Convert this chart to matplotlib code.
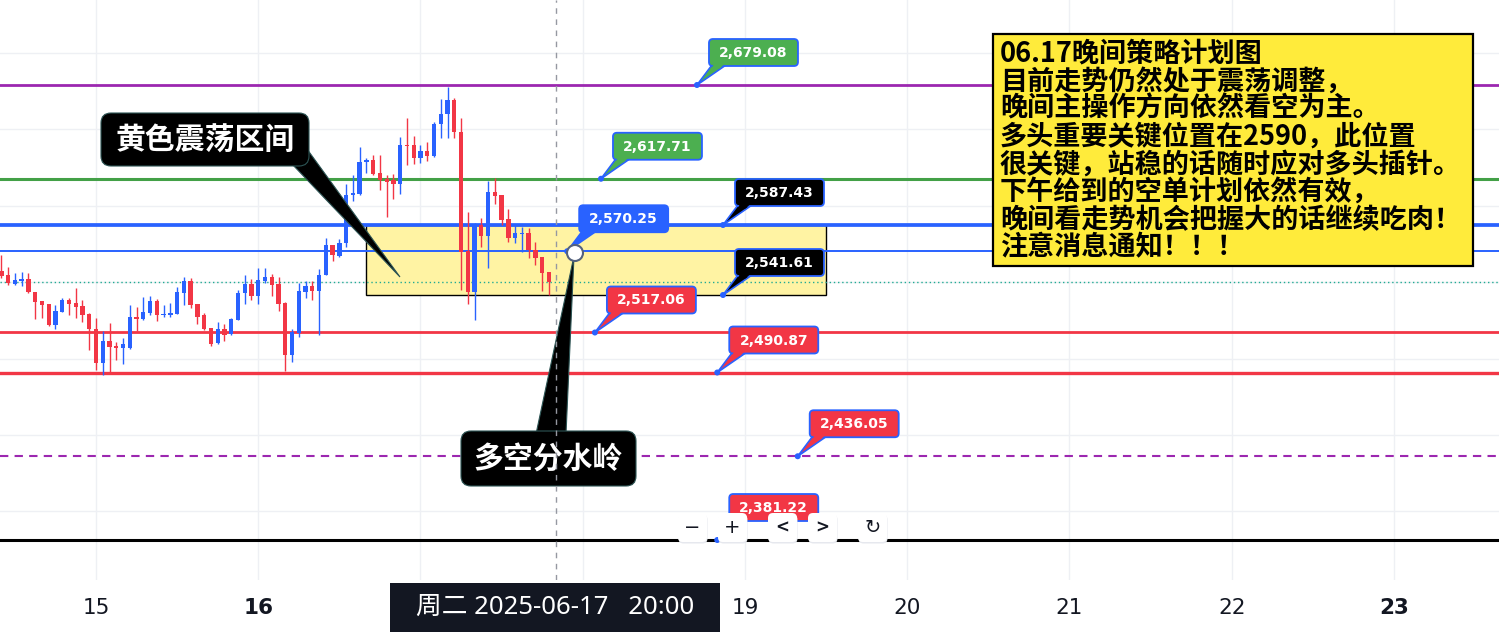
import matplotlib
matplotlib.use("Agg")
import matplotlib.pyplot as plt
from matplotlib.patches import FancyBboxPatch, Polygon, Rectangle, Circle
from matplotlib.transforms import IdentityTransform

W, H = 1499, 639

# ---------------- data ----------------
hours = list(range(-14, 68))  # hourly candles, hour 0 = 06-15 00:00
opens = [2557.3, 2554.7, 2548.6, 2551.0, 2552.1, 2543.8, 2537.7, 2535.7, 2522.0, 2530.7,
         2538.3, 2536.6, 2534.4, 2529.2, 2519.2, 2497.3, 2511.5, 2508.2, 2506.7, 2506.7,
         2527.5, 2525.8, 2529.7, 2537.7, 2528.3, 2528.5, 2529.2, 2543.1, 2551.0, 2535.7,
         2528.5, 2520.3, 2509.9, 2519.6, 2515.9, 2525.2, 2542.7, 2548.8, 2541.0, 2550.5,
         2553.6, 2548.8, 2536.6, 2502.3, 2516.5, 2543.8, 2547.5, 2544.4, 2554.7, 2574.3,
         2567.3, 2575.5, 2607.1, 2607.5, 2628.5, 2630.0, 2621.3, 2617.4, 2616.9, 2614.3,
         2639.8, 2639.8, 2631.5, 2635.9, 2632.8, 2653.3, 2659.9, 2669.3, 2648.1, 2570.4,
         2543.8, 2587.4, 2580.4, 2608.8, 2607.1, 2591.4, 2579.1, 2581.7, 2582.0, 2571.1,
         2566.7, 2556.5]
highs = [2567.8, 2560.1, 2555.8, 2556.5, 2556.2, 2543.8, 2537.7, 2535.7, 2535.1, 2539.4,
         2539.4, 2546.0, 2538.3, 2529.5, 2526.3, 2518.0, 2523.1, 2511.0, 2513.3, 2535.1,
         2533.9, 2540.5, 2541.0, 2538.8, 2535.1, 2536.2, 2547.0, 2553.2, 2552.5, 2535.7,
         2529.6, 2520.3, 2524.1, 2522.9, 2526.3, 2544.9, 2554.7, 2551.9, 2559.1, 2559.5,
         2555.2, 2553.2, 2537.2, 2519.2, 2549.3, 2551.0, 2551.0, 2558.4, 2578.7, 2574.3,
         2578.3, 2614.1, 2620.2, 2638.7, 2631.5, 2633.3, 2633.3, 2620.2, 2620.6, 2645.2,
         2657.3, 2645.9, 2639.8, 2641.6, 2654.6, 2669.9, 2678.0, 2670.8, 2657.3, 2596.1,
         2588.5, 2591.8, 2616.2, 2618.0, 2607.1, 2598.2, 2587.9, 2586.3, 2585.3, 2576.5,
         2566.7, 2556.9]
lows = [2552.7, 2548.2, 2548.2, 2547.7, 2542.7, 2525.9, 2526.7, 2521.5, 2519.2, 2530.4,
        2528.5, 2526.3, 2524.1, 2505.6, 2492.5, 2489.2, 2490.3, 2499.1, 2496.4, 2506.0,
        2518.2, 2525.5, 2528.5, 2524.6, 2527.5, 2527.5, 2529.0, 2535.1, 2532.9, 2522.6,
        2518.5, 2508.2, 2509.7, 2511.7, 2515.4, 2525.0, 2535.7, 2538.3, 2535.7, 2549.6,
        2541.1, 2531.3, 2492.1, 2497.9, 2514.3, 2539.4, 2538.3, 2515.4, 2554.5, 2564.1,
        2566.7, 2573.2, 2603.3, 2607.3, 2621.3, 2620.2, 2610.3, 2592.9, 2604.5, 2607.6,
        2626.7, 2627.2, 2627.8, 2629.3, 2632.1, 2644.6, 2644.2, 2644.6, 2544.9, 2535.5,
        2525.2, 2573.2, 2559.1, 2601.0, 2587.4, 2576.1, 2575.5, 2569.6, 2566.0, 2561.3,
        2544.2, 2541.6]
closes = [2554.1, 2549.3, 2551.4, 2551.9, 2543.4, 2537.2, 2535.1, 2522.0, 2531.3, 2538.3,
          2535.7, 2534.0, 2528.5, 2519.2, 2497.3, 2511.5, 2507.8, 2506.7, 2509.5, 2527.5,
          2525.8, 2530.4, 2537.7, 2528.5, 2529.2, 2529.7, 2543.8, 2551.0, 2535.1, 2527.5,
          2519.6, 2509.5, 2519.6, 2515.4, 2525.6, 2543.1, 2548.8, 2541.0, 2551.4, 2553.6,
          2548.2, 2535.7, 2502.3, 2517.6, 2544.4, 2547.5, 2544.4, 2554.7, 2574.3, 2567.8,
          2575.5, 2607.1, 2608.2, 2628.5, 2630.0, 2620.8, 2616.6, 2615.8, 2614.3, 2639.8,
          2639.3, 2631.5, 2635.9, 2632.8, 2653.3, 2659.9, 2669.3, 2648.1, 2570.0, 2543.8,
          2587.4, 2580.4, 2608.8, 2606.6, 2590.7, 2579.1, 2582.0, 2582.4, 2571.1, 2566.0,
          2556.2, 2550.3]

label_prices = [2679.08, 2617.71, 2587.43, 2570.25, 2541.61, 2517.06, 2490.87, 2436.05, 2381.22]
label_texts = ["2,679.08", "2,617.71", "2,587.43", "2,570.25", "2,541.61",
               "2,517.06", "2,490.87", "2,436.05", "2,381.22"]
label_fills = ["#4caf50", "#4caf50", "#000000", "#2962ff", "#000000",
               "#f23645", "#f23645", "#f23645", "#f23645"]
label_hours = [88.9, 74.7, 92.75, 69.7, 92.75, 73.8, 91.9, 103.8, 91.9]

line_prices = [2679.08, 2617.71, 2587.43, 2570.25, 2517.06, 2490.87, 2436.05, 2381.22]
line_colors = ["#9c27b0", "#43a047", "#2962ff", "#2962ff", "#f23645", "#f23645", "#9c27b0", "#000000"]
line_widths = [2.0, 2.2, 2.7, 1.4, 2.0, 2.4, 1.5, 2.2]
line_styles = ["-", "-", "-", "-", "-", "-", (0, (4, 3)), "-"]

range_hours = (40, 108)
range_prices = (2541.61, 2587.43)
last_price = 2550.3
cross_hour = 68

day_hours = [0, 24, 96, 120, 144, 168, 192]   # 17 and 18 are hidden under the crosshair label
day_labels = ["15", "16", "19", "20", "21", "22", "23"]
grid_hours = [0, 24, 48, 72, 96, 120, 144, 168, 192]
bold_days = ["16", "23"]

note_lines = ["06.17晚间策略计划图",
              "目前走势仍然处于震荡调整，",
              "晚间主操作方向依然看空为主。",
              "多头重要关键位置在2590，此位置",
              "很关键，站稳的话随时应对多头插针。",
              "下午给到的空单计划依然有效，",
              "晚间看走势机会把握大的话继续吃肉！",
              "注意消息通知！！！"]

UP = "#2962ff"
DOWN = "#f23645"
CJK = ["Noto Sans CJK SC", "DejaVu Sans"]
IDT = IdentityTransform()

# ---------------- figure ----------------
fig = plt.figure(figsize=(W / 100, H / 100), dpi=100)
fig.patch.set_facecolor("white")
ax = fig.add_axes([0, 59 / H, 1, 580 / H])
ax.set_xlim(-14.2, 207.54)
ax.set_ylim(2355.04, 2734.72)
ax.axis("off")

# grid
for p in range(2400, 2701, 50):
    ax.axhline(p, color="#eef0f4", lw=1, zorder=0.5)
for d in grid_hours:
    ax.axvline(d, color="#eef0f4", lw=1, zorder=0.5)

# yellow range box
ax.add_patch(Rectangle((range_hours[0], range_prices[0]), range_hours[1] - range_hours[0],
                       range_prices[1] - range_prices[0], fc="#fff3a3", ec="black", lw=1, zorder=1))

# level lines
for p, c, w, s in zip(line_prices, line_colors, line_widths, line_styles):
    ax.axhline(p, color=c, lw=w, ls=s, zorder=2)
ax.axhline(last_price, color="#22ab94", lw=1, ls=(0, (1, 2)), zorder=2)

# candles
cols = [UP if c >= o else DOWN for o, c in zip(opens, closes)]
ax.vlines(hours, lows, highs, colors=cols, lw=1, zorder=3)
bottoms = [min(o, c) for o, c in zip(opens, closes)]
heights = [max(abs(c - o), 0.8) for o, c in zip(opens, closes)]
ax.bar(hours, heights, bottom=bottoms, width=0.64, color=cols, lw=0, zorder=3.1)

# crosshair vertical
ax.axvline(cross_hour, color="#9598a1", lw=1, ls=(0, (4, 4)), zorder=6)


def P(x, y):
    return (x, H - y)


# big black callouts
def big_callout(box, tail, text):
    x0, y0, x1, y1 = box
    ax.add_patch(Polygon([P(*t) for t in tail], closed=True, fc="black", ec="#2d5555", lw=0.8,
                         transform=IDT, zorder=5, clip_on=False))
    ax.add_patch(FancyBboxPatch(P(x0, y1), x1 - x0, y1 - y0, boxstyle="round,pad=0,rounding_size=10",
                                fc="black", ec="#2d5555", lw=0.8, transform=IDT, zorder=5.1, clip_on=False))
    ax.add_patch(Polygon([P(*t) for t in tail[:2]] + [P((tail[0][0] + tail[1][0]) / 2, (tail[0][1] + tail[1][1]) / 2 + 8)],
                         closed=True, fc="black", ec="none", transform=IDT, zorder=5.2, clip_on=False))
    ax.text((x0 + x1) / 2, H - (y0 + y1) / 2 - 1, text, transform=IDT, ha="center", va="center",
            color="white", fontsize=21.5, fontweight="heavy", family=CJK, zorder=5.3, clip_on=False)


big_callout((101, 113, 309, 166), [(291, 163), (307, 149), (400, 277)], "黄色震荡区间")
big_callout((461, 431, 636, 486), [(536, 434), (566, 434), (574, 256)], "多空分水岭")

# price callouts
for p, t, f, hx in zip(label_prices, label_texts, label_fills, label_hours):
    axx, ayy = ax.transData.transform((hx, p))
    left, bottom = axx + 12, ayy + 19
    ax.add_patch(Polygon([(left + 3, bottom + 1), (left + 17, bottom + 1), (axx, ayy)], closed=True,
                         fc=f, ec=UP, lw=1.2, transform=IDT, zorder=7, clip_on=False))
    ax.add_patch(FancyBboxPatch((left, bottom), 89, 27, boxstyle="round,pad=0,rounding_size=4",
                                fc=f, ec=UP, lw=1.3, transform=IDT, zorder=7.1, clip_on=False))
    ax.add_patch(Polygon([(left + 4.8, bottom + 2), (left + 15.5, bottom + 2), (left + 10.5, bottom - 2.5),
                          (left + 2.8, bottom - 2.5)], closed=True, fc=f, ec="none",
                         transform=IDT, zorder=7.2, clip_on=False))
    ax.add_patch(Circle((axx, ayy), 3, fc=UP, ec="none", transform=IDT, zorder=7.3, clip_on=False))
    ax.text(left + 44.5, bottom + 13, t, transform=IDT, ha="center", va="center", color="white",
            fontsize=10, fontweight="bold", family=["DejaVu Sans"], zorder=7.4, clip_on=False)

# selected handle circle
ax.add_patch(Circle(P(575, 253), 8, fc="white", ec="#54627e", lw=1.5, transform=IDT, zorder=8, clip_on=False))

# note box
ax.add_patch(Rectangle(P(993, 266), 480, 232, fc="#ffeb3b", ec="black", lw=1.6,
                       transform=IDT, zorder=9, clip_on=False))
note_y = [53.3, 81.2, 108.9, 136.6, 164.3, 192.0, 219.7, 247.4]
for s, y in zip(note_lines, note_y):
    ax.text(1000, H - y, s, transform=IDT, ha="left", va="center", color="black",
            fontsize=19.5, fontweight="bold", family=CJK, zorder=9.1, clip_on=False)

# toolbar
for cx, sym in zip([692.5, 732.5, 782.5, 822.5, 872.5], ["−", "+", "<", ">", "↻"]):
    ax.add_patch(FancyBboxPatch((cx - 14.5 + 0.5, H - 542 - 1.5), 29, 29, boxstyle="round,pad=0,rounding_size=5",
                                fc="#e6e8ee", ec="none", transform=IDT, zorder=10, clip_on=False))
    ax.add_patch(FancyBboxPatch((cx - 14.5, H - 542), 29, 29, boxstyle="round,pad=0,rounding_size=5",
                                fc="white", ec="none", transform=IDT, zorder=10.1, clip_on=False))
    ax.text(cx, H - 527.5, sym, transform=IDT, ha="center", va="center", color="#131722",
            fontsize=14 if sym not in "<>" else 12, fontweight="bold" if sym in "<>" else "normal",
            family=["DejaVu Sans"], zorder=10.2, clip_on=False)

# x tick labels
for h, lab in zip(day_hours, day_labels):
    xd, _ = ax.transData.transform((h, 2400))
    ax.text(xd, H - 608, lab, transform=IDT, ha="center", va="center", color="#131722",
            fontsize=15.5, fontweight="bold" if lab in bold_days else "normal",
            family=["DejaVu Sans"], zorder=4, clip_on=False)

# crosshair date label
ax.add_patch(Rectangle(P(390, 632), 330, 49, fc="#131722", ec="none", transform=IDT, zorder=11, clip_on=False))
ax.text(555, H - 607, "周二 2025-06-17   20:00", transform=IDT, ha="center", va="center", color="white",
        fontsize=18.5, family=["Noto Sans", "Noto Sans CJK SC", "DejaVu Sans"], zorder=11.1, clip_on=False)

fig.savefig("out.png", dpi=100, facecolor="white")
